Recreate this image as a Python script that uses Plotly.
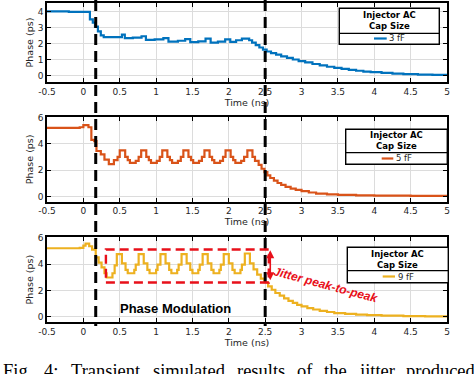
import plotly.graph_objects as go

# ---------------- data ----------------
t_3fF = [-0.5, -0.2, 0.09, 0.13, 0.16, 0.2, 0.24, 0.28, 0.53, 0.57, 0.68, 0.8, 0.86, 0.98,
         1.1, 1.17, 1.3, 1.4, 1.47, 1.58, 1.68, 1.75, 1.85, 1.95, 2.02, 2.1, 2.18, 2.28,
         2.32, 2.37, 2.42, 2.47, 2.52, 2.58, 2.65, 2.72, 2.8, 2.88, 2.96, 3.05, 3.15, 3.25,
         3.35, 3.45, 3.55, 3.65, 3.75, 3.85, 3.95, 4.1, 4.25, 4.4, 4.6, 4.8, 5.0]
v_3fF = [4.0, 3.97, 3.5, 3.3, 3.05, 2.75, 2.5, 2.4, 2.55, 2.33, 2.36, 2.45, 2.22, 2.25,
         2.33, 2.12, 2.17, 2.27, 2.08, 2.13, 2.3, 2.05, 2.12, 2.25, 2.1, 2.2, 2.3, 2.2,
         2.05, 1.9, 1.75, 1.62, 1.5, 1.4, 1.3, 1.2, 1.1, 1.0, 0.9, 0.82, 0.72, 0.63,
         0.55, 0.48, 0.42, 0.36, 0.3, 0.25, 0.21, 0.17, 0.12, 0.09, 0.06, 0.04, 0.03]

t_5fF = [-0.5, -0.05, 0.0, 0.07, 0.11, 0.15, 0.18, 0.24, 0.29, 0.35, 0.42, 0.47, 0.5, 0.575,
         0.61, 0.64, 0.72, 0.76, 0.795, 0.865, 0.9, 0.93, 1.01, 1.05, 1.085, 1.155, 1.19,
         1.22, 1.3, 1.34, 1.375, 1.445, 1.48, 1.51, 1.59, 1.63, 1.665, 1.735, 1.77, 1.8,
         1.88, 1.92, 1.955, 2.025, 2.06, 2.09, 2.17, 2.21, 2.255, 2.325, 2.36, 2.41, 2.45,
         2.49, 2.53, 2.57, 2.62, 2.67, 2.72, 2.78, 2.85, 2.92, 3.0, 3.1, 3.2, 3.35, 3.5,
         3.75, 4.0, 4.5, 5.0]
v_5fF = [5.2, 5.25, 5.42, 5.25, 4.3, 4.2, 3.45, 3.2, 2.8, 2.45, 2.75, 3.0, 3.5, 3.0,
         2.75, 2.55, 2.7, 3.0, 3.5, 3.0, 2.75, 2.55, 2.7, 3.0, 3.5, 3.0, 2.75,
         2.55, 2.7, 3.0, 3.5, 3.0, 2.75, 2.55, 2.7, 3.0, 3.5, 3.0, 2.75, 2.55,
         2.7, 3.0, 3.5, 3.0, 2.75, 2.55, 2.7, 3.0, 3.5, 3.0, 2.7, 2.4, 2.1,
         1.85, 1.6, 1.4, 1.2, 1.02, 0.87, 0.73, 0.6, 0.5, 0.4, 0.3, 0.22, 0.16, 0.12,
         0.08, 0.06, 0.04, 0.02]

t_9fF = [-0.5, -0.05, 0.0, 0.03, 0.08, 0.12, 0.17, 0.21, 0.25, 0.29, 0.32, 0.4, 0.43,
         0.46, 0.53, 0.58, 0.61, 0.7, 0.72, 0.76, 0.83, 0.88, 0.91, 1.0, 1.02, 1.06, 1.13,
         1.18, 1.21, 1.29, 1.31, 1.35, 1.42, 1.47, 1.5, 1.58, 1.6, 1.64, 1.71, 1.76, 1.79,
         1.87, 1.89, 1.93, 2.0, 2.05, 2.08, 2.16, 2.18, 2.22, 2.29, 2.34, 2.39, 2.44, 2.49,
         2.54, 2.59, 2.64, 2.7, 2.76, 2.82, 2.88, 2.94, 3.0, 3.08, 3.16, 3.25, 3.35, 3.45,
         3.6, 3.75, 3.9, 4.1, 4.4, 4.7, 5.0]
v_9fF = [5.2, 5.22, 5.4, 5.55, 5.35, 5.1, 4.5, 4.1, 3.75, 3.3, 2.98, 3.3, 3.9,
         4.75, 4.05, 3.55, 3.3, 3.55, 3.95, 4.75, 4.05, 3.55, 3.3, 3.55, 3.95, 4.75, 4.05,
         3.55, 3.3, 3.55, 3.95, 4.75, 4.05, 3.55, 3.3, 3.55, 3.95, 4.75, 4.05, 3.55, 3.3,
         3.55, 3.95, 4.75, 4.05, 3.55, 3.3, 3.55, 3.95, 4.8, 4.05, 3.6, 3.2, 2.9, 2.6,
         2.3, 2.05, 1.8, 1.6, 1.4, 1.2, 1.05, 0.9, 0.78, 0.65, 0.55, 0.45, 0.36, 0.28,
         0.21, 0.16, 0.12, 0.08, 0.05, 0.03, 0.02]

series_names = ["3 fF", "5 fF", "9 fF"]
series_colors = ["#0072BD", "#D95319", "#EDB120"]

x_ticks = [-0.5, 0, 0.5, 1, 1.5, 2, 2.5, 3, 3.5, 4, 4.5, 5]
x_tick_labels = ["-0.5", "0", "0.5", "1", "1.5", "2", "2.5", "3", "3.5", "4", "4.5", "5"]
y_ticks_top = [0, 1, 2, 3, 4]
y_ticks_other = [0, 2, 4, 6]

marker_times = [0.17, 2.5]          # black dashed event lines
jitter_box_t = [0.31, 2.55]
jitter_box_v = [2.6, 5.1]
arrow_t = 2.57

legend_title = "<b>Injector AC<br>Cap Size</b>"
caption_words = ["Fig.", "4:", "Transient", "simulated", "results", "of", "the", "jitter", "produced"]

# ---------------- layout helpers ----------------
W, H = 474, 374
ML, MR, MT, MB = 47, 27, 3, 52
PW, PH = W - ML - MR, H - MT - MB


def xp(px):
    return (px - ML) / PW


def yp(py):
    return 1 - (py - MT) / PH


FONT = "DejaVu Sans"
TICKCOL = "#262626"

fig = go.Figure()
all_t = [t_3fF, t_5fF, t_9fF]
all_v = [v_3fF, v_5fF, v_9fF]
for i in range(3):
    sfx = "" if i == 0 else str(i + 1)
    fig.add_trace(go.Scatter(
        x=all_t[i], y=all_v[i], mode="lines", line_shape="hv",
        line=dict(color=series_colors[i], width=2.2),
        name=series_names[i], showlegend=False, hoverinfo="skip",
        xaxis="x" + sfx, yaxis="y" + sfx))

domains = [[yp(82), 1.0], [yp(201.7), yp(117)], [0.0, yp(237.3)]]
yranges = [[-0.4, 4.52], [-0.4, 6.03], [-0.4, 6.03]]

axis_common = dict(
    showline=True, linecolor="black", linewidth=1.6, mirror="ticks",
    ticks="inside", ticklen=4, tickwidth=1, tickcolor="black",
    showgrid=True, gridcolor="#DCDCDC", gridwidth=1, zeroline=False,
    automargin=False,
    tickfont=dict(family=FONT, size=9, color=TICKCOL),
)

layout = dict(
    width=W, height=H, margin=dict(l=ML, r=MR, t=MT, b=MB, autoexpand=False),
    paper_bgcolor="white", plot_bgcolor="white", showlegend=False,
    font=dict(family=FONT, size=9, color=TICKCOL),
)
for i in range(3):
    sfx = "" if i == 0 else str(i + 1)
    layout["xaxis" + sfx] = dict(
        axis_common, domain=[0, 1], range=[-0.5, 5], anchor="y" + sfx,
        tickvals=x_ticks, ticktext=x_tick_labels,
        title=dict(text="Time (ns)", font=dict(family=FONT, size=9.5, color=TICKCOL), standoff=2))
    layout["yaxis" + sfx] = dict(
        axis_common, domain=domains[i], range=yranges[i], anchor="x" + sfx,
        tickvals=y_ticks_top if i == 0 else y_ticks_other,
        title=dict(text="Phase (ps)", font=dict(family=FONT, size=9.5, color=TICKCOL), standoff=2))
fig.update_layout(**layout)

shapes = []
annotations = []

# black dashed vertical lines spanning all panels
for tm in marker_times:
    shapes.append(dict(type="line", xref="x", yref="paper", x0=tm, x1=tm,
                       y0=yp(0), y1=yp(326), layer="above",
                       line=dict(color="black", width=3, dash="11px,6px")))

# red dashed box + arrow + labels in bottom panel
shapes.append(dict(type="rect", xref="x3", yref="y3",
                   x0=jitter_box_t[0], x1=jitter_box_t[1], y0=jitter_box_v[0], y1=jitter_box_v[1],
                   layer="above", line=dict(color="#E8101A", width=2.4, dash="9px,5px")))
annotations.append(dict(xref="x3", yref="y3", axref="x3", ayref="y3",
                        x=arrow_t, y=jitter_box_v[1] - 0.05, ax=arrow_t, ay=jitter_box_v[0] + 0.05,
                        text="", showarrow=True, arrowhead=2, arrowside="end+start",
                        arrowsize=1, arrowwidth=1.6, arrowcolor="#E8101A"))
annotations.append(dict(xref="paper", yref="paper", x=xp(326), y=yp(285),
                        xanchor="center", yanchor="middle",
                        text="<b><i>Jitter peak-to-peak</i></b>", showarrow=False, textangle=15,
                        font=dict(family="Liberation Sans", size=12, color="#E8101A")))
annotations.append(dict(xref="paper", yref="paper", x=xp(175), y=yp(308),
                        xanchor="center", yanchor="middle",
                        text="<b>Phase Modulation</b>", showarrow=False,
                        font=dict(family="Liberation Sans", size=13, color="black")))

# legend boxes (MATLAB style, title + separator + entry)
legend_boxes = [
    dict(x0=339.3, x1=439.3, y0=8.3, y1=44.3, sep=33.3, ty=20.5, lx0=374, lx1=386.7, ly=38.5),
    dict(x0=345.7, x1=447.3, y0=129.3, y1=164.3, sep=152.7, ty=140.5, lx0=381.7, lx1=393.3, ly=158.5),
    dict(x0=347.3, x1=448.3, y0=247.3, y1=282.7, sep=270.7, ty=259.5, lx0=382.7, lx1=395, ly=276.5),
]
for i, b in enumerate(legend_boxes):
    shapes.append(dict(type="rect", xref="paper", yref="paper",
                       x0=xp(b["x0"]), x1=xp(b["x1"]), y0=yp(b["y1"]), y1=yp(b["y0"]),
                       fillcolor="white", layer="above", line=dict(color="black", width=1.4)))
    shapes.append(dict(type="line", xref="paper", yref="paper",
                       x0=xp(b["x0"]), x1=xp(b["x1"]), y0=yp(b["sep"]), y1=yp(b["sep"]),
                       layer="above", line=dict(color="black", width=1.2)))
    shapes.append(dict(type="line", xref="paper", yref="paper",
                       x0=xp(b["lx0"]), x1=xp(b["lx1"]), y0=yp(b["ly"]), y1=yp(b["ly"]),
                       layer="above", line=dict(color=series_colors[i], width=2.2)))
    annotations.append(dict(xref="paper", yref="paper", x=xp((b["x0"] + b["x1"]) / 2), y=yp(b["ty"]),
                            text=legend_title, showarrow=False, xanchor="center", yanchor="middle",
                            font=dict(family=FONT, size=8.5, color="black")))
    annotations.append(dict(xref="paper", yref="paper", x=xp(b["lx1"] + 0.5), y=yp(b["ly"]),
                            text=series_names[i], showarrow=False, xanchor="left", yanchor="middle",
                            font=dict(family=FONT, size=8.5, color=TICKCOL)))

# caption (justified serif line, partially cut at the bottom)
caption_x = [1, 42.3, 68.7, 150.6, 234.5, 294.9, 322.3, 356.9, 403.8]
for w, px in zip(caption_words, caption_x):
    annotations.append(dict(xref="paper", yref="paper", x=xp(px), y=yp(359),
                            text=w, showarrow=False, xanchor="left", yanchor="top",
                            font=dict(family="Liberation Serif", size=18.5, color="black")))

fig.update_layout(shapes=shapes, annotations=annotations)
fig.write_html("out.html", config={"displayModeBar": False},
               post_script="document.body.style.margin='0px';")
